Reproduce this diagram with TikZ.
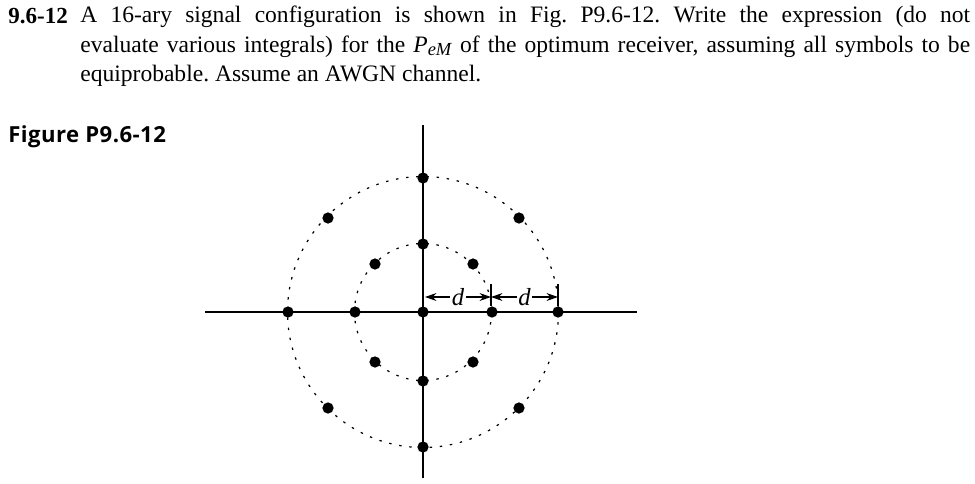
\documentclass[tikz,border=0pt]{standalone}
\usepackage{fontspec}
\usetikzlibrary{arrows.meta}
\setmainfont{Liberation Serif}
\newfontfamily\figfont[LetterSpace=2]{Open Sans}
\frenchspacing
\tikzset{
	sigdot/.style={circle, fill=black, inner sep=0pt, minimum size=0.225cm},
	axisline/.style={line width=1.3pt},
	ringline/.style={line width=0.7pt, dash pattern=on 1.4pt off 4.4pt},
	dimline/.style={line width=0.6pt, {Stealth[length=6.5pt,width=4.5pt]}-{Stealth[length=6.5pt,width=4.5pt]}},
	tickline/.style={line width=0.7pt},
	bodytext/.style={inner sep=0pt, anchor=north west, text width=17.8cm, align=justify, font=\fontsize{13.4pt}{16.8pt}\selectfont}
}
\begin{document}
\begin{tikzpicture}[x=0.02cm, y=-0.02cm]
		\useasboundingbox (0, 0) rectangle (975, 484);

		\node [inner sep=0pt, anchor=west, font=\fontsize{13.1pt}{17pt}\selectfont\bfseries] (number) at (8, 16) {9.6-12};
		\node [bodytext] (problem) at (80, 5.8) {A 16-ary signal configuration is shown in Fig. P9.6-12. Write the expression (do not\linebreak evaluate various integrals) for the \textit{P}\raisebox{-2pt}{\fontsize{10.5pt}{10pt}\selectfont\textit{eM}} of the optimum receiver, assuming all symbols to be\linebreak equiprobable. Assume an AWGN channel.};
		\node [inner sep=0pt, anchor=west, font=\fontsize{12.6pt}{15pt}\selectfont\figfont\bfseries] (figlabel) at (8, 136.5) {Figure P9.6-12};

		\coordinate (left) at (205, 312);
		\coordinate (right) at (637, 312);
		\coordinate (top) at (423, 125);
		\coordinate (bottom) at (423, 478);
		\draw [axisline] (left) -- (right);
		\draw [axisline] (top) -- (bottom);

		\draw [ringline] (423, 312) circle [radius=135.5];
		\draw [ringline] (423, 312) circle [radius=68.5];

		\node [sigdot] (o) at (423, 312) {};
		\node [sigdot] (i1) at (492, 312) {};
		\node [sigdot] (i2) at (473, 264) {};
		\node [sigdot] (i3) at (423, 244) {};
		\node [sigdot] (i4) at (375, 264) {};
		\node [sigdot] (i5) at (355, 312) {};
		\node [sigdot] (i6) at (375, 362) {};
		\node [sigdot] (i7) at (423, 381) {};
		\node [sigdot] (i8) at (473, 362) {};
		\node [sigdot] (a1) at (558, 312) {};
		\node [sigdot] (a2) at (519, 218) {};
		\node [sigdot] (a3) at (423, 178) {};
		\node [sigdot] (a4) at (328, 218) {};
		\node [sigdot] (a5) at (288, 312) {};
		\node [sigdot] (a6) at (328, 408) {};
		\node [sigdot] (a7) at (423, 447) {};
		\node [sigdot] (a8) at (519, 408) {};

		\coordinate (d0) at (425, 297);
		\coordinate (d1) at (491, 297);
		\coordinate (d2) at (558, 297);
		\coordinate (t1a) at (491, 284);
		\coordinate (t1b) at (491, 306);
		\coordinate (t2a) at (558, 284);
		\coordinate (t2b) at (558, 306);
		\draw [tickline] (t1a) -- (t1b);
		\draw [tickline] (t2a) -- (t2b);
		\draw [dimline] (d0) -- node [fill=white, inner sep=1pt, font=\fontsize{14pt}{14pt}\selectfont\itshape] (dleft) {d} (d1);
		\draw [dimline] (d1) -- node [fill=white, inner sep=1pt, font=\fontsize{14pt}{14pt}\selectfont\itshape] (dright) {d} (d2);
\end{tikzpicture}
\end{document}
